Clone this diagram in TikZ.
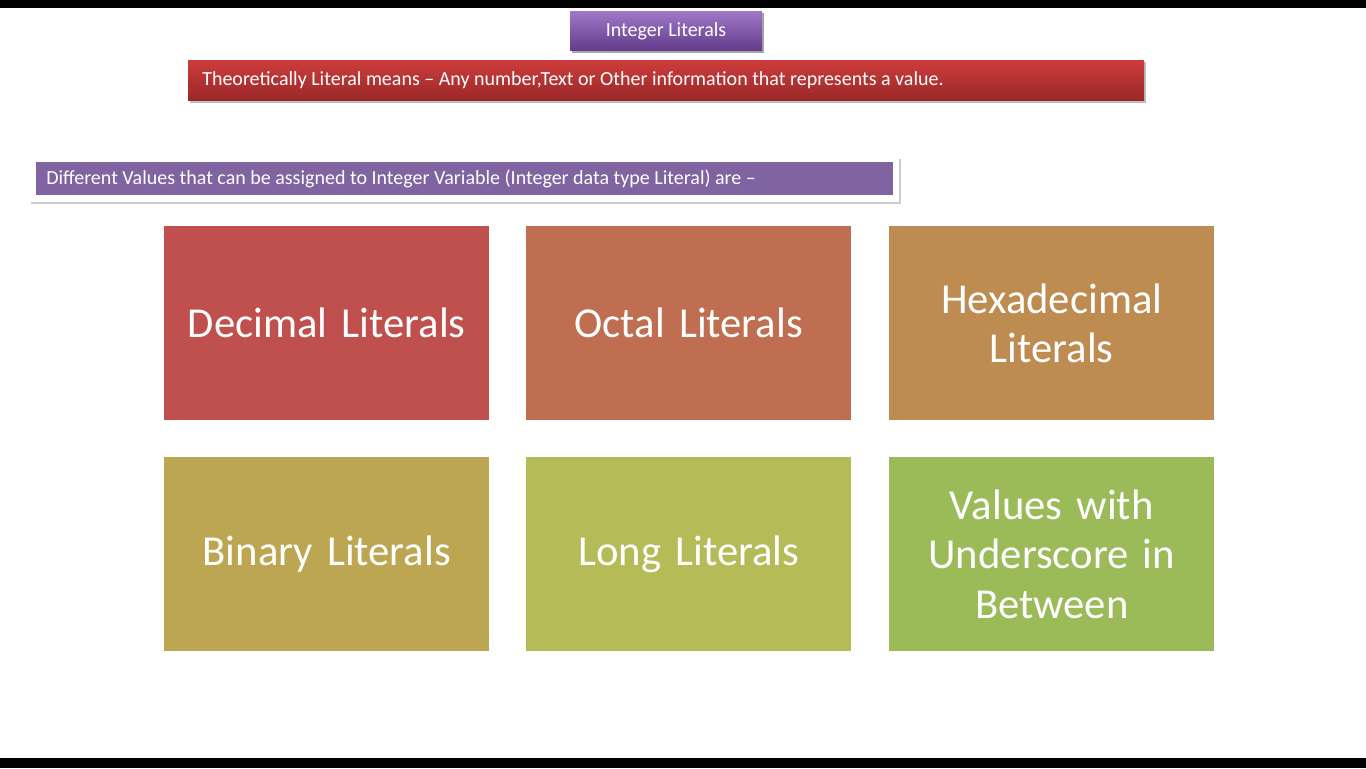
\documentclass[tikz,border=0pt]{standalone}
\usepackage{fontspec}
\setmainfont{Carlito}
\begin{document}
\begin{tikzpicture}[x=0.75pt,y=-0.75pt,
  tile/.style={anchor=north west,minimum width=243.75pt,minimum height=145.5pt,inner sep=0pt,text=white,font=\fontsize{32}{37}\selectfont,align=center,text width=235pt},
  bar/.style={anchor=north west,inner sep=0pt,text=white,font=\fontsize{15}{18}\selectfont}]
\useasboundingbox (0,0) rectangle (1366,768);
\fill[white] (0,0) rectangle (1366,768);
\fill[black] (0,0) rectangle (1366,8);
\fill[black] (0,758) rectangle (1366,768);
% title
\fill[black!35] (572,13) rectangle (764,53);
\shade[top color={rgb,255:red,160;green,120;blue,200},bottom color={rgb,255:red,100;green,60;blue,140}] (570,11) rectangle (762,50);
\node[bar,anchor=center] (title) at (666,31) {Integer Literals};
% red bar
\fill[black!25] (190,62) rectangle (1146,103);
\shade[top color={rgb,255:red,205;green,60;blue,60},bottom color={rgb,255:red,155;green,40;blue,40}] (188,60) rectangle (1144,100);
\node[bar,anchor=west] (def) at (202,80) {Theoretically Literal means – Any number,Text or Other information that represents a value.};
% purple box
\fill[black!20] (31,159) rectangle (901,204);
\fill[white] (29,157) rectangle (899,202);
\fill[fill={rgb,255:red,128;green,100;blue,162}] (36,162) rectangle (893,195);
\node[bar,anchor=west] (diff) at (46,178.5) {Different Values that can be assigned to Integer Variable (Integer data type Literal) are –};
% tiles
\definecolor{c1}{RGB}{192,80,77}
\definecolor{c2}{RGB}{191,110,81}
\definecolor{c3}{RGB}{190,140,81}
\definecolor{c4}{RGB}{189,166,82}
\definecolor{c5}{RGB}{181,187,87}
\definecolor{c6}{RGB}{155,187,89}
\node[tile,fill=c1] (t1) at (164,226) {Decimal Literals};
\node[tile,fill=c2] (t2) at (526,226) {Octal Literals};
\node[tile,fill=c3] (t3) at (889,226) {Hexadecimal\\Literals};
\node[tile,fill=c4] (t4) at (164,457) {Binary Literals};
\node[tile,fill=c5] (t5) at (526,457) {Long Literals};
\node[tile,fill=c6] (t6) at (889,457) {Values with\\Underscore in\\Between};
\end{tikzpicture}
\end{document}
